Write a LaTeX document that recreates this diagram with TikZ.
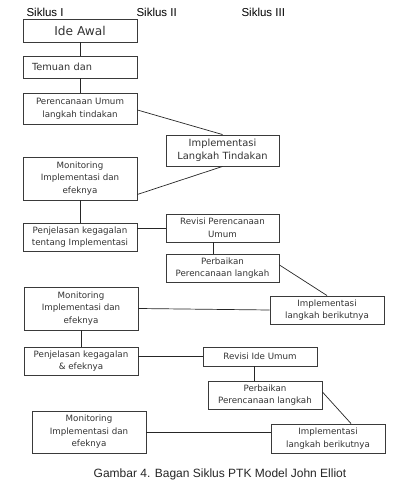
\documentclass[tikz,border=0pt]{standalone}
\usepackage{fontspec}
\setmainfont{Liberation Sans}
\newfontfamily\boxfont{DejaVu Sans}
\usepackage{tikz}
\definecolor{boxgray}{HTML}{3A3A3A}
\definecolor{txtgray}{HTML}{333333}
\tikzset{
box/.style={draw=boxgray, line width=0.9pt, text=txtgray, align=center, inner sep=2pt,
    minimum width=114pt, font=\boxfont\fontsize{8.7}{12.5}\selectfont},
link/.style={draw=black!85, line width=0.7pt}}

\begin{document}
\begin{tikzpicture}[x=1pt, y=-1pt]
    \useasboundingbox (0,0) rectangle (414,502);

                \node[anchor=base west, font=\fontsize{11.5}{13}\selectfont] (s1) at (23,16.5) {Siklus I};
                \node[anchor=base west, font=\fontsize{11.5}{13}\selectfont] (s2) at (133,16.5) {Siklus II};
                \node[anchor=base west, font=\fontsize{11.5}{13}\selectfont] (s3) at (238,16.5) {Siklus III};

                \node[box, minimum height=23pt, font=\boxfont\fontsize{12.2}{14}\selectfont] (ide) at (80,30.5) {Ide Awal};
                \node[box, minimum height=22pt, align=left, inner xsep=9pt, text width=96pt, font=\boxfont\fontsize{9.8}{12}\selectfont] (temuan) at (80,67) {Temuan dan};
                \node[box, minimum height=31pt] (rencana) at (80,108.5) {Perencanaan Umum\\langkah tindakan};
                \node[box, minimum width=113pt, minimum height=31pt, font=\boxfont\fontsize{9.9}{13}\selectfont] (impl1) at (222.5,150.5) {Implementasi\\Langkah Tindakan};
                \node[box, minimum height=43pt] (mon1) at (80,178.5) {Monitoring\\Implementasi dan\\efeknya};
                \node[box, minimum height=28pt] (jelas1) at (80,237) {Penjelasan kegagalan\\tentang Implementasi};
                \node[box, minimum width=113pt, minimum height=28pt] (revisi1) at (222.5,228) {Revisi Perencanaan\\Umum};
                \node[box, minimum width=113pt, minimum height=28pt] (baik1) at (222.5,268) {Perbaikan\\Perencanaan langkah};
                \node[box, minimum height=43pt] (mon2) at (81,308.5) {Monitoring\\Implementasi dan\\efeknya};
                \node[box, minimum height=28pt] (impl2) at (327,310) {Implementasi\\langkah berikutnya};
                \node[box, minimum height=28pt] (jelas2) at (81,361) {Penjelasan kegagalan\\\& efeknya};
                \node[box, minimum height=19pt] (revide) at (260,356.5) {Revisi Ide Umum};
                \node[box, minimum height=28pt] (baik2) at (265,395) {Perbaikan\\Perencanaan langkah};
                \node[box, minimum height=42pt] (mon3) at (89,432) {Monitoring\\Implementasi dan\\efeknya};
                \node[box, minimum height=29pt] (impl3) at (328,438.5) {Implementasi\\langkah berikutnya};

                \draw[link] (ide) -- (temuan);
                \draw[link] (temuan) -- (rencana);
                \draw[link] ([yshift=-1.5pt]rencana.east) -- (impl1.north);
                \draw[link] ([yshift=6pt]mon1.south east) -- (impl1.south);
                \draw[link] (mon1) -- (jelas1);
                \draw[link] (revisi1.west) -- (revisi1.west -| jelas1.east);
                \draw[link] ([xshift=-9pt]revisi1.south) -- ([xshift=-9pt]baik1.north);
                \draw[link] ([yshift=3pt]baik1.east) -- (impl2.north);
                \draw[link] (mon2.east) -- (impl2.west);
                \draw[link] (mon2) -- (jelas2);
                \draw[link] (revide.west) -- (revide.west -| jelas2.east);
                \draw[link] ([xshift=-6pt]revide.south) -- ([xshift=-11pt]baik2.north);
                \draw[link] ([yshift=3pt]baik2.east) -- ([xshift=23pt]impl3.north);
                \draw[link] (mon3.east) -- (mon3.east -| impl3.west);

                \node[anchor=base, font=\fontsize{12}{14}\selectfont, text=black!85] (caption) at (220,477) {Gambar 4. Bagan Siklus PTK Model John Elliot};

            \end{tikzpicture}
\end{document}
